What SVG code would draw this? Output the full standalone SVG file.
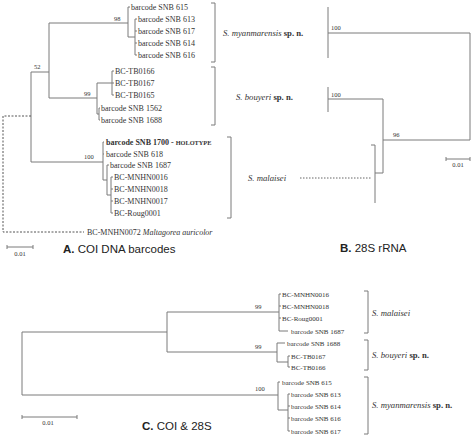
<svg xmlns="http://www.w3.org/2000/svg" width="474" height="439" viewBox="0 0 474 439">
<style>
.br{fill:none;stroke:#7a7a7a;stroke-width:1}
.dash{fill:none;stroke:#555;stroke-width:1;stroke-dasharray:2,1.5}
.dot{fill:none;stroke:#666;stroke-width:1;stroke-dasharray:1.5,1.5}
.lb{font-family:"Liberation Serif",serif;font-size:8px;fill:#333}
.lc{font-family:"Liberation Serif",serif;font-size:7px;fill:#333}
.bs{font-family:"Liberation Serif",serif;font-size:6.5px;fill:#333}
.sp{font-family:"Liberation Serif",serif;font-size:8.7px;fill:#333}
.it{font-style:italic}
.bd{font-weight:bold}
.tt{font-family:"Liberation Sans",Arial,sans-serif;font-size:11.5px;fill:#222}
</style>
<rect width="474" height="439" fill="#fff"/>
<g id="connectors">
<!-- Tree A -->
<path class="br" d="M128,7H130M128,7V37M128,37H135M135,19V55M135,19H137M135,31H137M135,43H137M135,55H137"/>
<path class="br" d="M49,23H128M49,23V98M31,72H49M49,98H97M97,83V114M97,83H112M112,71V95M112,71H114M112,83H114M112,95H114M97,114H99M99,108V120M99,108H100M99,120H100"/>
<path class="br" d="M31,72V162M31,162H103M103,142V180M103,142H104M103,154H104M103,180H107M107,165V195M107,165H109M107,195H111M111,177V213M111,177H113M111,189H113M111,201H113M111,213H113"/>
<path class="dash" d="M31,116H3V232H84"/>
<!-- brackets A -->
<path class="br" d="M211,3H215V62H211M211,67H215V125H211M227,137H231V218H227"/>
<!-- Tree B -->
<path class="br" d="M328,7V58M328,87V112M328,33H470V140H383M328,99H383V173H375M371,145H375V203"/>
<path class="dot" d="M300,178H372"/>
<!-- Tree C -->
<path class="br" d="M22,332V395M22,332H167M167,312V352M167,312H279M279,294V331M279,294H281M279,306H281M279,318H281M279,331H288"/>
<path class="br" d="M167,352H277M277,343V362M277,343H285M277,362H288M288,356V367M288,356H290M288,367H290"/>
<path class="br" d="M22,395H278M278,382V410M278,382H280M278,410H288M288,394V431M288,394H290M288,406H290M288,418H290M288,431H290"/>
<path class="br" d="M364,291H368V333H364M364,340H368V370H364M364,377H368V434H364"/>
<!-- scale bars -->
<path class="br" d="M7,247H33M7,245V249M33,245V249M446,159H470M446,157V161M470,157V161M22,417H77M22,415V419M77,415V419"/>
</g>
<g id="treeA-labels">
<text class="lb" x="131" y="9.8">barcode SNB 615</text>
<text class="lb" x="138" y="21.8">barcode SNB 613</text>
<text class="lb" x="138" y="33.8">barcode SNB 617</text>
<text class="lb" x="138" y="45.8">barcode SNB 614</text>
<text class="lb" x="138" y="57.8">barcode SNB 616</text>
<text class="lb" x="115" y="73.8">BC-TB0166</text>
<text class="lb" x="115" y="85.8">BC-TB0167</text>
<text class="lb" x="115" y="97.8">BC-TB0165</text>
<text class="lb" x="101" y="110.8">barcode SNB 1562</text>
<text class="lb" x="101" y="122.8">barcode SNB 1688</text>
<text class="lb bd" x="106" y="144.8">barcode SNB 1700 - <tspan font-size="6.3px">HOLOTYPE</tspan></text>
<text class="lb" x="106" y="156.8">barcode SNB 618</text>
<text class="lb" x="110" y="167.8">barcode SNB 1687</text>
<text class="lb" x="114" y="179.8">BC-MNHN0016</text>
<text class="lb" x="114" y="191.8">BC-MNHN0018</text>
<text class="lb" x="114" y="203.8">BC-MNHN0017</text>
<text class="lb" x="114" y="215.8">BC-Roug0001</text>
<text class="lb" x="87" y="234.8">BC-MNHN0072 <tspan class="it">Maltagorea auricolor</tspan></text>
<text class="bs" x="114" y="21">98</text>
<text class="bs" x="34" y="69">52</text>
<text class="bs" x="84" y="96">99</text>
<text class="bs" x="84" y="159">100</text>
<text class="bs" x="20" y="256" text-anchor="middle" font-size="6px">0.01</text>
<text class="tt" x="63" y="253"><tspan class="bd">A.</tspan> COI DNA barcodes</text>
</g>
<g id="clades-A">
<text class="sp" x="223" y="36"><tspan class="it">S. myanmarensis</tspan> <tspan class="bd">sp. n.</tspan></text>
<text class="sp" x="236" y="100"><tspan class="it">S. bouyeri</tspan> <tspan class="bd">sp. n.</tspan></text>
<text class="sp it" x="248" y="181">S. malaisei</text>
</g>
<g id="treeB-labels">
<text class="bs" x="331" y="30">100</text>
<text class="bs" x="331" y="97">100</text>
<text class="bs" x="393" y="137">96</text>
<text class="bs" x="458" y="167" text-anchor="middle" font-size="6px">0.01</text>
<text class="tt" x="340" y="252"><tspan class="bd">B.</tspan> 28S rRNA</text>
</g>
<g id="treeC-labels">
<text class="lc" x="282" y="296.5">BC-MNHN0016</text>
<text class="lc" x="282" y="308.5">BC-MNHN0018</text>
<text class="lc" x="282" y="320.5">BC-Roug0001</text>
<text class="lc" x="291" y="333.5">barcode SNB 1687</text>
<text class="lc" x="287" y="345.5">barcode SNB 1688</text>
<text class="lc" x="291" y="358.5">BC-TB0167</text>
<text class="lc" x="291" y="369.5">BC-TB0166</text>
<text class="lc" x="282" y="384.5">barcode SNB 615</text>
<text class="lc" x="291" y="396.5">barcode SNB 613</text>
<text class="lc" x="291" y="408.5">barcode SNB 614</text>
<text class="lc" x="291" y="420.5">barcode SNB 616</text>
<text class="lc" x="291" y="433.5">barcode SNB 617</text>
<text class="bs" x="255" y="309">99</text>
<text class="bs" x="255" y="349">99</text>
<text class="bs" x="255" y="391">100</text>
<text class="bs" x="48" y="425" text-anchor="middle" font-size="6px">0.01</text>
<text class="tt" x="142" y="430"><tspan class="bd">C.</tspan> COI &amp; 28S</text>
</g>
<g id="clades-C">
<text class="sp it" x="372" y="316">S. malaisei</text>
<text class="sp" x="372" y="358"><tspan class="it">S. bouyeri</tspan> <tspan class="bd">sp. n.</tspan></text>
<text class="sp" x="372" y="408"><tspan class="it">S. myanmarensis</tspan> <tspan class="bd">sp. n.</tspan></text>
</g>
</svg>
